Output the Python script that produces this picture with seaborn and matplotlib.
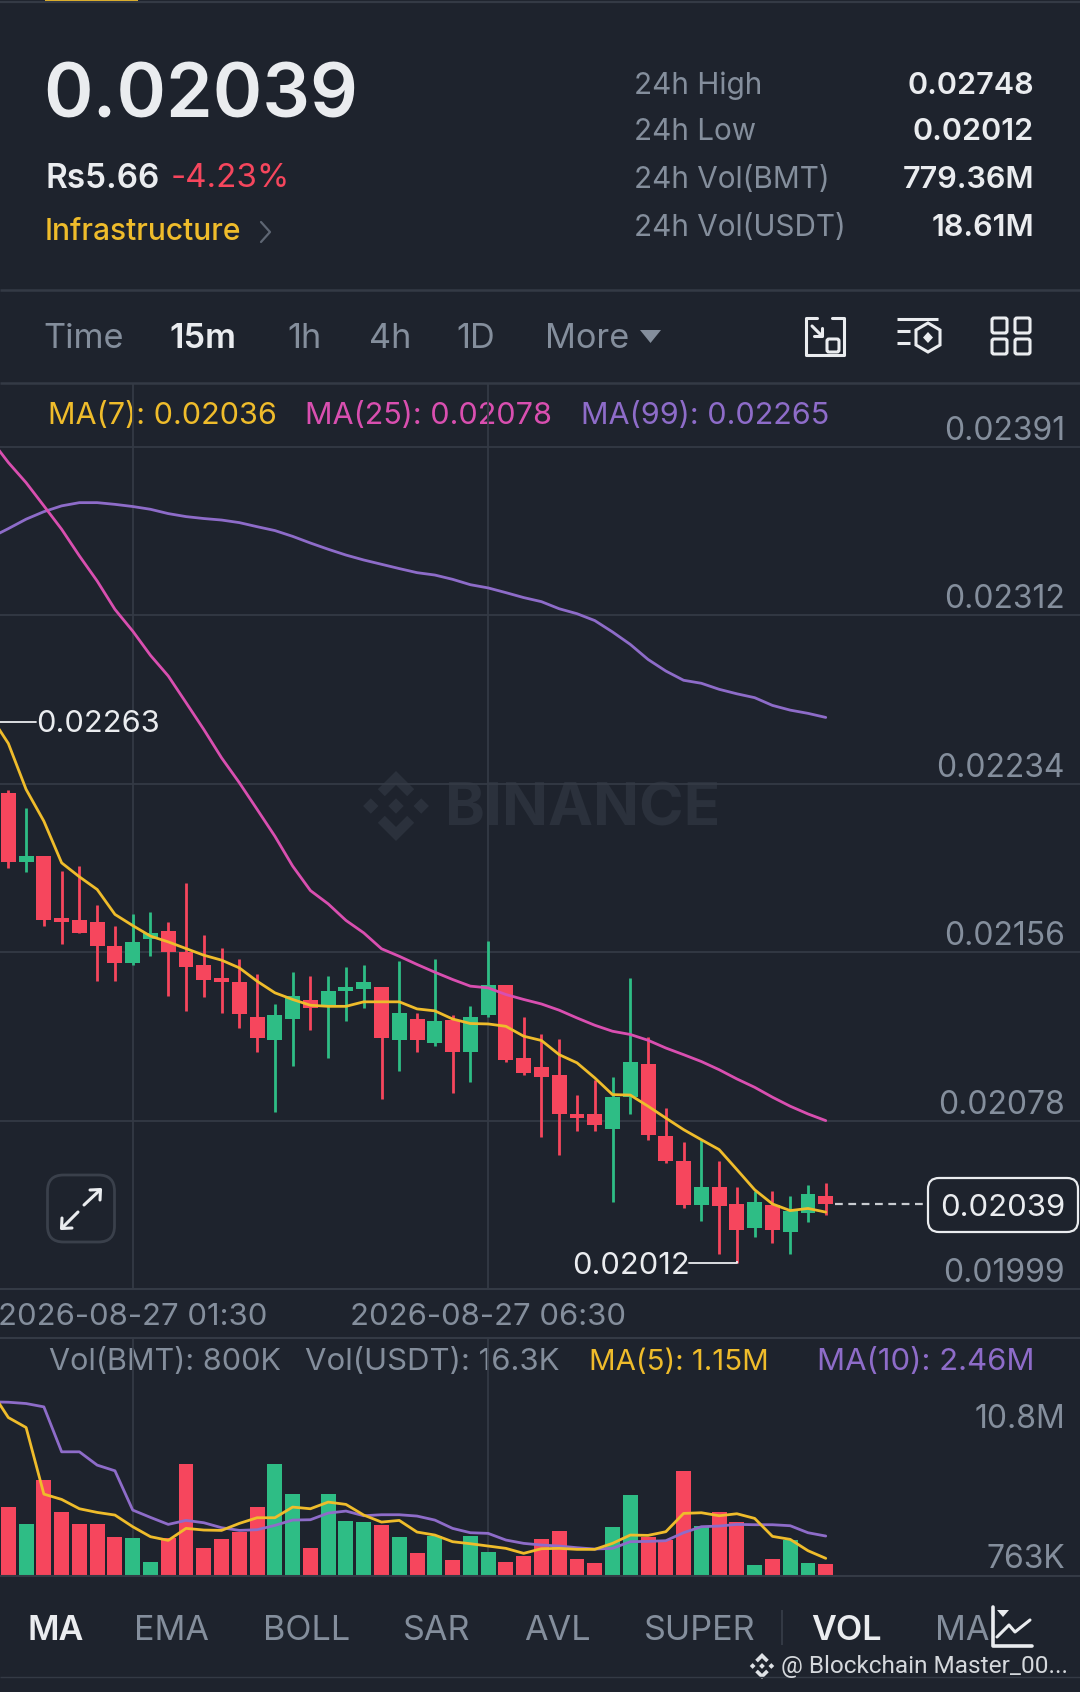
import matplotlib
matplotlib.use("Agg")
import matplotlib.pyplot as plt
from matplotlib.patches import FancyBboxPatch, Polygon, Rectangle
import seaborn as sns
import pandas as pd

# -----------------------------
# Data
# -----------------------------
opens = [0.022300, 0.021980, 0.022008, 0.021718, 0.021709, 0.021698, 0.021586, 0.021508, 0.021620, 0.021657,
         0.021558, 0.021497, 0.021437, 0.021417, 0.021257, 0.021147, 0.021247, 0.021336, 0.021314, 0.021376,
         0.021387, 0.021397, 0.021147, 0.021247, 0.021137, 0.021244, 0.021095, 0.021266, 0.021406, 0.021066,
         0.021025, 0.020985, 0.020805, 0.020805, 0.020735, 0.020886, 0.021036, 0.020704, 0.020584, 0.020383,
         0.020465, 0.020384, 0.020274, 0.020383, 0.020254, 0.020344, 0.020425]
closes = [0.021980, 0.022007, 0.021710, 0.021698, 0.021648, 0.021589, 0.021507, 0.021606, 0.021648, 0.021558,
          0.021488, 0.021428, 0.021418, 0.021268, 0.021157, 0.021266, 0.021356, 0.021299, 0.021376, 0.021397,
          0.021417, 0.021157, 0.021277, 0.021147, 0.021237, 0.021095, 0.021255, 0.021406, 0.021056, 0.020996,
          0.020976, 0.020806, 0.020785, 0.020755, 0.020886, 0.021046, 0.020706, 0.020584, 0.020383, 0.020465,
          0.020375, 0.020265, 0.020393, 0.020265, 0.020353, 0.020434, 0.020386]
highs = [0.022311, 0.022230, 0.022008, 0.021938, 0.021959, 0.021779, 0.021678, 0.021738, 0.021747, 0.021698,
         0.021878, 0.021637, 0.021578, 0.021527, 0.021457, 0.021316, 0.021466, 0.021448, 0.021448, 0.021487,
         0.021497, 0.021397, 0.021518, 0.021275, 0.021527, 0.021265, 0.021306, 0.021608, 0.021406, 0.021257,
         0.021175, 0.021156, 0.020895, 0.020965, 0.020976, 0.021437, 0.021165, 0.020834, 0.020675, 0.020685,
         0.020584, 0.020465, 0.020445, 0.020445, 0.020423, 0.020474, 0.020485]
lows = [0.021949, 0.021931, 0.021679, 0.021598, 0.021648, 0.021426, 0.021426, 0.021497, 0.021538, 0.021355,
        0.021286, 0.021348, 0.021277, 0.021206, 0.021095, 0.020816, 0.021027, 0.021198, 0.021066, 0.021237,
        0.021297, 0.020875, 0.021007, 0.021095, 0.021119, 0.020904, 0.020956, 0.021257, 0.021047, 0.020987,
        0.020696, 0.020614, 0.020726, 0.020726, 0.020395, 0.020805, 0.020685, 0.020575, 0.020365, 0.020305,
        0.020151, 0.020111, 0.020234, 0.020204, 0.020153, 0.020303, 0.020334]

# moving averages start one candle left of the visible window
ma7 = [0.022657, 0.022530, 0.022316, 0.022168, 0.021974, 0.021909, 0.021850, 0.021734, 0.021682, 0.021633,
       0.021606, 0.021575, 0.021544, 0.021521, 0.021485, 0.021423, 0.021369, 0.021338, 0.021311, 0.021306,
       0.021306, 0.021327, 0.021327, 0.021327, 0.021294, 0.021285, 0.021247, 0.021226, 0.021224, 0.021213,
       0.021167, 0.021147, 0.021081, 0.021043, 0.020973, 0.020895, 0.020893, 0.020841, 0.020786, 0.020732,
       0.020685, 0.020639, 0.020546, 0.020452, 0.020386, 0.020355, 0.020365, 0.020348]
ma25 = [0.023946, 0.023838, 0.023744, 0.023636, 0.023527, 0.023403, 0.023286, 0.023154, 0.023053, 0.022940,
        0.022844, 0.022720, 0.022595, 0.022463, 0.022347, 0.022223, 0.022098, 0.021959, 0.021845, 0.021783,
        0.021706, 0.021648, 0.021574, 0.021539, 0.021501, 0.021465, 0.021431, 0.021400, 0.021392, 0.021361,
        0.021338, 0.021317, 0.021288, 0.021252, 0.021218, 0.021190, 0.021175, 0.021148, 0.021112, 0.021081,
        0.021049, 0.021011, 0.020968, 0.020929, 0.020883, 0.020841, 0.020805, 0.020774]
ma99 = [0.023488, 0.023530, 0.023574, 0.023609, 0.023636, 0.023651, 0.023651, 0.023643, 0.023633, 0.023620,
        0.023600, 0.023586, 0.023577, 0.023570, 0.023558, 0.023539, 0.023521, 0.023494, 0.023463, 0.023434,
        0.023407, 0.023384, 0.023364, 0.023344, 0.023325, 0.023314, 0.023294, 0.023269, 0.023254, 0.023232,
        0.023209, 0.023190, 0.023157, 0.023134, 0.023102, 0.023049, 0.022991, 0.022921, 0.022867, 0.022824,
        0.022810, 0.022782, 0.022761, 0.022743, 0.022707, 0.022685, 0.022670, 0.022651]

volumes = [4618, 3441, 6394, 4285, 3441, 3463, 2575, 2509, 910, 2509, 7437, 1887, 2486, 2953, 4618, 7437,
           5439, 1843, 5461, 3641, 3574, 3374, 2597, 1510, 2664, 1066, 2664, 1621, 955, 1354, 2486, 2975,
           1154, 866, 3263, 5395, 2620, 2398, 6971, 3330, 4285, 3574, 733, 1110, 2398, 866, 800]
vol_ma5 = [12388, 10567, 9901, 5461, 5106, 4484, 4240, 4063, 3286, 2620, 2375, 3175, 3064, 3041, 3508, 3885,
           3885, 4595, 4484, 4928, 4773, 4063, 3596, 3707, 2930, 2731, 2287, 2153, 1998, 1843, 1510, 1820,
           1843, 1776, 1776, 2176, 2731, 2708, 2953, 4174, 4218, 4018, 4151, 3841, 2642, 2442, 1687, 1177]
vol_ma10 = [11611, 11588, 11500, 11278, 8281, 8281, 7393, 7015, 4396, 3907, 3441, 3707, 3552, 3219, 3041, 3086,
            3374, 3730, 3752, 4196, 4329, 4018, 4085, 4085, 3996, 3730, 3175, 2886, 2842, 2398, 2176, 2065,
            1998, 1887, 1798, 1843, 2287, 2309, 2353, 2886, 3286, 3330, 3441, 3419, 3419, 3352, 2886, 2664]

price_ticks = [0.02391, 0.023126, 0.022342, 0.021558, 0.020774, 0.01999]
price_labels = ["0.02391", "0.02312", "0.02234", "0.02156", "0.02078", "0.01999"]
time_ticks = [7, 27]
time_labels = ["2026-08-27 01:30", "2026-08-27 06:30"]
vol_ticks = [10800, 763]
vol_labels = ["10.8M", "763K"]
last_price = 0.020385
high_mark = 0.022632
low_mark = 0.020111

stats_names = ["24h High", "24h Low", "24h Vol(BMT)", "24h Vol(USDT)"]
stats_values = ["0.02748", "0.02012", "779.36M", "18.61M"]

# -----------------------------
# Colours
# -----------------------------
BG = "#1e232d"
GRID = "#343a45"
GREY = "#848e9c"
WHITE = "#eaecef"
RED = "#f6465d"
GREEN = "#2ebd85"
YELLOW = "#efbc2b"
PINK = "#d94fb0"
PURPLE = "#8e6cc9"

sns.set_theme(style="dark", rc={"axes.facecolor": "none", "figure.facecolor": BG})
plt.rcParams["font.family"] = ["Inter", "DejaVu Sans"]

W, H = 1080, 1692
fig = plt.figure(figsize=(W / 100, H / 100), dpi=100)

# background layer in pixel coordinates: header, footer, separators
ui = fig.add_axes([0, 0, 1, 1], zorder=0)
ui.set_xlim(0, W)
ui.set_ylim(H, 0)
ui.axis("off")


def label(x, y, s, size, color=GREY, weight="normal", ha="left", **kw):
    # va center sits a little high for caps and digits
    return ui.text(x, y + 2.5, s, fontsize=size, color=color, fontweight=weight, ha=ha, va="center", **kw)


def logo(cx, cy, r, color):
    for dx, dy in [(0, 0), (-0.72, 0), (0.72, 0)]:
        ui.add_patch(Polygon([(cx + (dx - 0.22) * r, cy), (cx + dx * r, cy - 0.22 * r),
                              (cx + (dx + 0.22) * r, cy), (cx + dx * r, cy + 0.22 * r)], color=color, lw=0))
    for s in [-1, 1]:
        pts = [(0, 1), (0.52, 0.48), (0.32, 0.28), (0, 0.6), (-0.32, 0.28), (-0.52, 0.48)]
        ui.add_patch(Polygon([(cx + a * r, cy + s * b * r) for a, b in pts], color=color, lw=0))


# top strip
ui.hlines(2, 0, W, color=GRID, lw=1.6)
ui.add_patch(Rectangle((45, 0), 93, 2.5, color=YELLOW, lw=0))

# header
label(43, 95, "0.02039", 54, WHITE, "semibold")
label(45, 176, "Rs5.66", 24, WHITE, "semibold")
label(171, 176, "-4.23%", 23.8, RED)
label(45, 230, "Infrastructure", 21.6, YELLOW, "medium")
ui.plot([261, 270, 261], [222, 232, 242], color="#5e6673", lw=1.6)
for name, val, y in zip(stats_names, stats_values, [83, 130, 178, 226]):
    label(634, y, name, 21.4, GREY)
    label(1034, y, val, 22, WHITE, "semibold", ha="right")
ui.hlines([290, 383], 0, W, color=GRID, lw=1.8)

# interval row
for s, x, c, wgt in [("Time", 43, GREY, "normal"), ("15m", 169, WHITE, "semibold"), ("1h", 287, GREY, "normal"),
                     ("4h", 369, GREY, "normal"), ("1D", 456, GREY, "normal"), ("More", 545, GREY, "normal")]:
    label(x, 337, s, 24.7, c, wgt)
ui.add_patch(Polygon([(640, 330), (661, 330), (650.5, 343)], color=GREY, lw=0))

# toolbar icons
ICON = dict(fill=False, ec=WHITE, lw=2.2)
ui.plot([817, 806, 806, 844, 844, 832], [318, 318, 355, 355, 318, 318], color=WHITE, lw=2.2)
ui.plot([812, 822], [326, 336], color=WHITE, lw=2.2)
ui.plot([822, 822, 814], [328, 336, 336], color=WHITE, lw=2.2)
ui.add_patch(FancyBboxPatch((827, 339), 12, 13, boxstyle="round,pad=0,rounding_size=2", **ICON))
ui.hlines(319, 897, 938, color=WHITE, lw=2.2)
ui.hlines([331, 343], 897, 910, color=WHITE, lw=2.2)
ui.add_patch(Polygon([(928, 323), (940, 330), (940, 345), (928, 352), (916, 345), (916, 330)], **ICON))
ui.add_patch(Polygon([(928, 332), (933, 337.5), (928, 343), (923, 337.5)], color=WHITE, lw=0))
for x0 in [992, 1015]:
    for y0 in [318, 339]:
        ui.add_patch(FancyBboxPatch((x0, y0), 15, 15, boxstyle="round,pad=0,rounding_size=2", **ICON))

# MA legend
label(48, 413, "MA(7): 0.02036", 22, YELLOW)
label(305, 413, "MA(25): 0.02078", 22, PINK)
label(581, 413, "MA(99): 0.02265", 22, PURPLE)

# watermark
logo(396, 806, 35, "#2b313c")
label(445, 808, "BINANCE", 43.4, "#2b313c", "bold")

# expand button
ui.add_patch(FancyBboxPatch((47.5, 1175), 67, 67, boxstyle="round,pad=0,rounding_size=16", fill=False, ec="#3a404b", lw=2))
ui.plot([84, 100], [1205, 1190], color=WHITE, lw=2.2)
ui.plot([90, 100.5, 100], [1190, 1189.5, 1200], color=WHITE, lw=2.2)
ui.plot([78, 62], [1212, 1228], color=WHITE, lw=2.2)
ui.plot([62, 61.5, 72], [1218, 1228.5, 1228], color=WHITE, lw=2.2)

# price tag
ui.add_patch(FancyBboxPatch((928, 1178), 150, 54, boxstyle="round,pad=0,rounding_size=11", fc=BG, ec=WHITE, lw=1.6))
label(1003, 1206, "0.02039", 22.4, WHITE, ha="center")

# volume legend
label(49, 1360, "Vol(BMT): 800K", 22, GREY)
label(305, 1360, "Vol(USDT): 16.3K", 22.4, GREY)
label(589, 1360, "MA(5): 1.15M", 21.2, YELLOW)
label(817, 1360, "MA(10): 2.46M", 22.4, PURPLE)

# footer
for s, x, c, wgt in [("MA", 27, WHITE, "semibold"), ("EMA", 134, GREY, "normal"), ("BOLL", 263, GREY, "normal"),
                     ("SAR", 403, GREY, "normal"), ("AVL", 524, GREY, "normal"), ("SUPER", 644, GREY, "normal"),
                     ("VOL", 811, WHITE, "semibold"), ("MA", 935, GREY, "normal")]:
    label(x, 1629, s, 24.6, c, wgt)
ui.vlines(782, 1610, 1645, color=GRID, lw=1.4)
ui.add_patch(Rectangle((984, 1604), 54, 50, color=BG, lw=0))
ui.plot([993, 993, 1032], [1607, 1646, 1646], color=WHITE, lw=2.6)
ui.plot([997, 1009, 1015, 1030], [1637, 1625, 1632, 1620], color=WHITE, lw=2.2)
ui.add_patch(Polygon([(997, 1610), (1009, 1610), (1003, 1617)], color=WHITE, lw=0))
ui.hlines(1677, 0, W, color=GRID, lw=1)
logo(762, 1666, 13, "#dfe2e6")
ui.text(781, 1666, "@ Blockchain Master_00...", fontsize=17.6, color="#d5d8dc", family="Roboto", ha="left", va="center")

# -----------------------------
# Price pane
# -----------------------------
# 17.77 px per candle, first candle centred at 8.33 px
x_left = -8.33 / 17.77
x_right = (W - 8.33) / 17.77
idx = list(range(len(opens)))
ma_idx = list(range(-1, len(opens)))

ax = fig.add_axes([0, 1 - 1289 / H, 1, (1289 - 383) / H], zorder=1)
colors = [GREEN if c >= o else RED for o, c in zip(opens, closes)]
ax.vlines(idx, lows, highs, colors=colors, lw=2.0, zorder=2)
ax.bar(idx, [abs(c - o) for o, c in zip(opens, closes)], bottom=[min(o, c) for o, c in zip(opens, closes)],
       width=0.84, color=colors, edgecolor="none", linewidth=0, zorder=3)
for vals, col in [(ma99, PURPLE), (ma25, PINK), (ma7, YELLOW)]:
    sns.lineplot(x=ma_idx, y=vals, color=col, linewidth=2.0, estimator=None, errorbar=None, ax=ax, zorder=4)

ax.plot([46.5, 51.6], [last_price, last_price], color="#c9ccd1", lw=1.6, dashes=(3.5, 2.5), zorder=2)
ax.plot([x_left, 1.56], [high_mark, high_mark], color=WHITE, lw=1.3)
ax.annotate("0.02263", xy=(1.56, high_mark), xytext=(0, -2), textcoords="offset points",
            color=WHITE, fontsize=22.2, va="center", ha="left")
ax.plot([38.3, 41], [low_mark, low_mark], color=WHITE, lw=1.3)
ax.vlines(41, low_mark, low_mark + 0.00001, color=WHITE, lw=1.3)
ax.annotate("0.02012", xy=(38.3, low_mark), xytext=(1, -2), textcoords="offset points",
            color=WHITE, fontsize=22.2, va="center", ha="right")

ax.set_xlim(x_left, x_right)
ax.set_ylim(0.01999, 0.024208)
ax.set_xticks(time_ticks, time_labels)
ax.set_yticks(price_ticks, price_labels)
ax.yaxis.tick_right()
ax.tick_params(axis="y", direction="in", length=0, pad=-10.8, labelsize=23, labelcolor=GREY)
ax.tick_params(axis="x", length=0, pad=10, labelsize=22.4, labelcolor=GREY)
for t in ax.get_yticklabels():
    t.set_ha("right")
    t.set_va("bottom")
ax.set_xlabel("")
ax.set_ylabel("")
ax.grid(True, color=GRID, lw=1.3)
ax.set_axisbelow(True)
sns.despine(ax=ax, left=True, top=True, right=True, bottom=False)
ax.spines["bottom"].set_color(GRID)
ax.spines["bottom"].set_linewidth(1.5)

# -----------------------------
# Volume pane
# -----------------------------
vol_df = pd.DataFrame({"candle": idx, "vol": volumes, "side": ["up" if c == GREEN else "down" for c in colors]})
ax_vol = fig.add_axes([0, 1 - 1576 / H, 1, (1576 - 1338) / H], zorder=1)
sns.barplot(data=vol_df, x="candle", y="vol", hue="side", palette={"up": GREEN, "down": RED}, native_scale=True,
            dodge=False, width=0.84, saturation=1, legend=False, linewidth=0, edgecolor="none", ax=ax_vol, zorder=2)
sns.lineplot(x=ma_idx, y=vol_ma10, color=PURPLE, linewidth=2.0, estimator=None, errorbar=None, ax=ax_vol, zorder=3)
sns.lineplot(x=ma_idx, y=vol_ma5, color=YELLOW, linewidth=2.0, estimator=None, errorbar=None, ax=ax_vol, zorder=4)

ax_vol.set_xlim(x_left, x_right)
ax_vol.set_ylim(0, 15870)
ax_vol.set_xticks(time_ticks, ["", ""])
ax_vol.set_yticks([])
for v, s, off in zip(vol_ticks, vol_labels, [-4, 4]):
    ax_vol.annotate(s, xy=(1, v), xycoords=("axes fraction", "data"), xytext=(-10.8, off), textcoords="offset points",
                    ha="right", va="center", fontsize=23, color=GREY)
ax_vol.tick_params(axis="x", length=0)
ax_vol.set_xlabel("")
ax_vol.set_ylabel("")
ax_vol.grid(False)
ax_vol.grid(True, axis="x", color=GRID, lw=1.3)
ax_vol.set_axisbelow(True)
sns.despine(ax=ax_vol, left=True, top=False, right=True, bottom=False)
for side in ["top", "bottom"]:
    ax_vol.spines[side].set_color(GRID)
    ax_vol.spines[side].set_linewidth(1.5)

fig.savefig("out.png", dpi=100, facecolor=BG)
